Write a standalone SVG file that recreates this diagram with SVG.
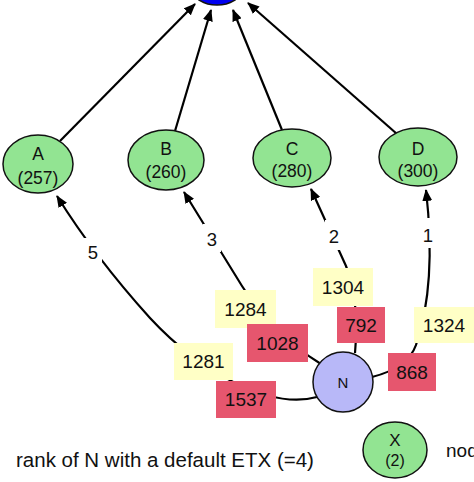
<svg xmlns="http://www.w3.org/2000/svg" width="474" height="482" viewBox="0 0 474 482">
<style>
.node{fill:#92e492;stroke:#111;stroke-width:1.5}
.t{font-family:"Liberation Sans",Arial,sans-serif;fill:#111;text-anchor:middle}
.nl{font-size:17.5px}
.bl{font-size:19px}
.el{font-size:18.5px}
.y{fill:#ffffc6}
.r{fill:#e6566e}
.e{fill:none;stroke:#000;stroke-width:2.2}
.bg{fill:#fff}
</style>
<defs>
<marker id="ah" viewBox="0 0 12 10" refX="11" refY="5" markerWidth="12" markerHeight="10" markerUnits="userSpaceOnUse" orient="auto">
<path d="M0,0 L12,5 L0,10 z" fill="#000"/>
</marker>
</defs>
<g id="connectors">
<line class="e" x1="60" y1="141" x2="195" y2="4" marker-end="url(#ah)"/>
<line class="e" x1="175" y1="131" x2="211" y2="10" marker-end="url(#ah)"/>
<line class="e" x1="282" y1="130" x2="233" y2="10" marker-end="url(#ah)"/>
<line class="e" x1="397" y1="134" x2="248" y2="3" marker-end="url(#ah)"/>
<path class="e" d="M317,397 C270,410 200,372 150,318 C112,276 82,236 57,196" marker-end="url(#ah)"/>
<path class="e" d="M321,364 C290,345 262,318 242,286 L184,192" marker-end="url(#ah)"/>
<path class="e" d="M355,353 C358,320 356,292 346,266 L311,189" marker-end="url(#ah)"/>
<path class="e" d="M372,377 C392,372 410,362 416,345 C428,310 434,260 426,190" marker-end="url(#ah)"/>
<rect class="bg" x="84" y="238" width="18" height="28"/>
<text class="t el" x="93" y="259">5</text>
<rect class="bg" x="203" y="224" width="18" height="28"/>
<text class="t el" x="212" y="246">3</text>
<rect class="bg" x="325" y="220" width="18" height="30"/>
<text class="t el" x="334" y="243">2</text>
<rect class="bg" x="419" y="218" width="18" height="30"/>
<text class="t el" x="428" y="242">1</text>
</g>
<g id="root"><ellipse cx="217" cy="-10" rx="24" ry="15" fill="#0000f0" stroke="#111" stroke-width="1.5"/></g>
<g id="A"><ellipse class="node" cx="38" cy="164" rx="35" ry="29"/><text class="t nl" x="38" y="160">A</text><text class="t nl" x="38" y="184">(257)</text></g>
<g id="B"><ellipse class="node" cx="166" cy="160" rx="38" ry="30"/><text class="t nl" x="166" y="155">B</text><text class="t nl" x="166" y="178">(260)</text></g>
<g id="C"><ellipse class="node" cx="292" cy="158" rx="39" ry="29"/><text class="t nl" x="292" y="155">C</text><text class="t nl" x="292" y="177">(280)</text></g>
<g id="D"><ellipse class="node" cx="418" cy="157" rx="39" ry="29"/><text class="t nl" x="418" y="155">D</text><text class="t nl" x="418" y="177">(300)</text></g>
<g id="b1304"><rect class="y" x="313" y="268" width="60" height="38"/><text class="t bl" x="343" y="294">1304</text></g>
<g id="b792"><rect class="r" x="337" y="307" width="48" height="36"/><text class="t bl" x="361" y="332">792</text></g>
<g id="b1284"><rect class="y" x="215" y="290" width="61" height="38"/><text class="t bl" x="245.5" y="316">1284</text></g>
<g id="b1028"><rect class="r" x="247" y="324" width="61" height="38"/><text class="t bl" x="277.5" y="350">1028</text></g>
<g id="b1281"><rect class="y" x="174" y="343" width="59" height="37"/><text class="t bl" x="203.5" y="368">1281</text></g>
<g id="b1537"><rect class="r" x="216" y="381" width="60" height="37"/><text class="t bl" x="246" y="406">1537</text></g>
<g id="b1324"><rect class="y" x="414" y="307" width="60" height="36"/><text class="t bl" x="444" y="332">1324</text></g>
<g id="b868"><rect class="r" x="388" y="353" width="48" height="38"/><text class="t bl" x="412" y="379">868</text></g>
<g id="N"><circle cx="343" cy="382" r="30" fill="#b8b8f8" stroke="#111" stroke-width="1.5"/><text class="t" style="font-size:15px" x="343" y="388">N</text></g>
<g id="legend">
<text x="16" y="467" style="font-family:'Liberation Sans',Arial,sans-serif;font-size:20.5px;fill:#111">rank of N with a default ETX (=4)</text>
<ellipse class="node" cx="395" cy="450" rx="32" ry="28"/>
<text class="t" style="font-size:17px" x="395" y="446">X</text>
<text class="t" style="font-size:16px" x="395" y="466">(2)</text>
<text x="446" y="457" style="font-family:'Liberation Sans',Arial,sans-serif;font-size:19px;fill:#111">node</text>
</g>
</svg>
